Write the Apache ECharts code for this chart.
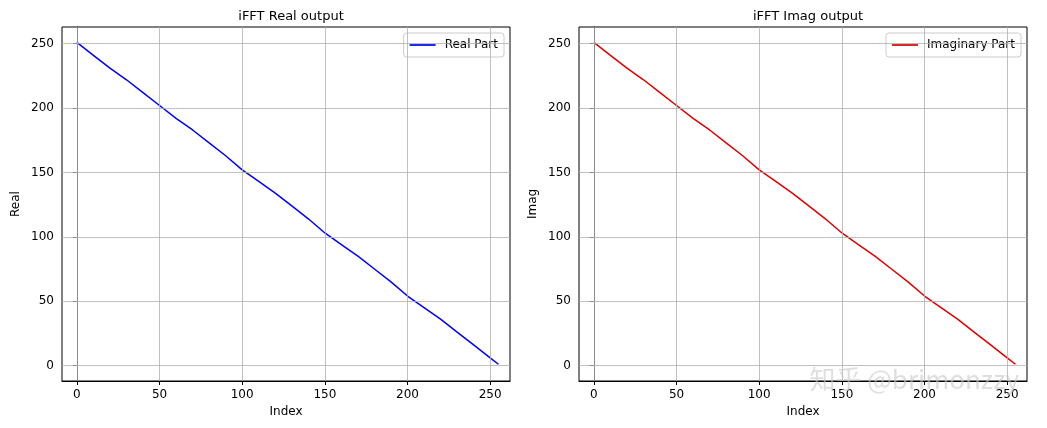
<!DOCTYPE html>
<html><head><meta charset="utf-8">
<script src="https://cdn.jsdelivr.net/npm/echarts@6/dist/echarts.min.js"></script>
<style>html,body{margin:0;padding:0;background:#fff}#c{width:1047px;height:428px}</style>
</head><body><div id="c"></div>
<script>
const idx = [0,10,20,30,40,50,60,70,80,90,100,110,120,130,140,150,160,170,180,190,200,210,220,230,240,250,255];
const realVals = [251,241,231,222,212,202,192,183,173,163,152,143,134,124,114,103,94,85,75,65,54,45,36,26,16,6,1];
const imagVals = [251,241,231,222,212,202,192,183,173,163,152,143,134,124,114,103,94,85,75,65,54,45,36,26,16,6,1];
const ticks = [0,50,100,150,200,250];
const font = 'DejaVu Sans';
const chart = echarts.init(document.getElementById('c'));
function xAx(g){return {type:'value',gridIndex:g,min:-9,max:262,name:'Index',nameLocation:'middle',nameGap:24,
 nameTextStyle:{color:'#000',fontSize:12,fontFamily:font},
 axisLine:{onZero:false,lineStyle:{color:'#000'}},splitLine:{show:false},
 axisTick:{customValues:ticks,length:4,lineStyle:{color:'#000'}},
 axisLabel:{customValues:ticks,color:'#000',fontSize:12,fontFamily:font}};}
function yAx(g,n){return {type:'value',gridIndex:g,min:-12,max:263,name:n,nameLocation:'middle',nameGap:40,
 nameTextStyle:{color:'#000',fontSize:12,fontFamily:font},
 axisLine:{show:true,lineStyle:{color:'#000'}},splitLine:{show:false},
 axisTick:{show:true,customValues:ticks,length:4,lineStyle:{color:'#000'}},
 axisLabel:{customValues:ticks,color:'#000',fontSize:12,fontFamily:font}};}
function ml(){return {silent:true,symbol:'none',label:{show:false},lineStyle:{color:'#b0b0b0',type:'solid',width:0.8},
 data:ticks.map(v=>({xAxis:v})).concat(ticks.map(v=>({yAxis:v})))};}
function ser(g,name,vals,col){return {type:'line',name:name,xAxisIndex:g,yAxisIndex:g,showSymbol:false,
 data:idx.map((x,i)=>[x,vals[i]]),lineStyle:{color:col,width:1.5},itemStyle:{color:col},markLine:ml(),animation:false};}
function leg(name,right){return {data:[name],right:right,top:33,orient:'vertical',icon:'path://M0,0H30V2H0Z',itemWidth:26,itemHeight:2,
   borderColor:'#ccc',borderWidth:1,borderRadius:3,padding:[6,6],backgroundColor:'#fff',
   textStyle:{fontSize:12,fontFamily:font,color:'#000',padding:[0,0,0,4]}};}
chart.setOption({
 animation:false,
 title:[{text:'iFFT Real output',left:286,top:5,textAlign:'center',textStyle:{fontSize:13,fontWeight:'normal',fontFamily:font,color:'#000'}},
        {text:'iFFT Imag output',left:803,top:5,textAlign:'center',textStyle:{fontSize:13,fontWeight:'normal',fontFamily:font,color:'#000'}}],
 legend:[leg('Real Part',543),leg('Imaginary Part',26)],
 grid:[{left:62,width:448,top:27,height:354,show:true,borderColor:'#000',borderWidth:1},
       {left:579,width:448,top:27,height:354,show:true,borderColor:'#000',borderWidth:1}],
 xAxis:[xAx(0),xAx(1)],
 yAxis:[yAx(0,'Real'),yAx(1,'Imag')],
 series:[ser(0,'Real Part',realVals,'#0000ff'),ser(1,'Imaginary Part',imagVals,'#e00000')],
 graphic:[{type:'text',right:28,top:366,z:100,style:{text:'知乎 @brimonzzy',fontSize:26,fontFamily:'Noto Sans CJK SC',fill:'rgba(200,200,200,0.6)'}}]
});
</script></body></html>
